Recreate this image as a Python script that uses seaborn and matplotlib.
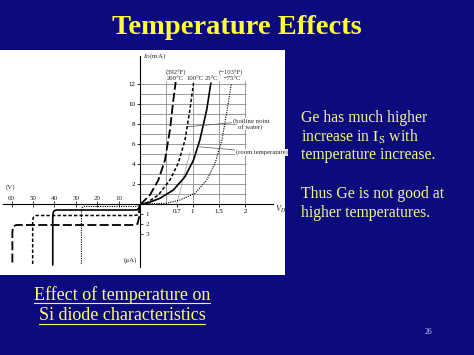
import matplotlib.pyplot as plt
import seaborn as sns
from matplotlib.patches import Rectangle

# diode curves: forward side in V and mA, reverse side in V and uA
temps = ['200°C', '100°C', '25°C', '−75°C']

fwd_v_200 = [0, 0.06, 0.19, 0.35, 0.476, 0.57, 0.635, 0.68]
fwd_i_200 = [0, 0.23, 0.9, 2.4, 4.4, 7.4, 10.4, 12.2]
fwd_v_100 = [0, 0.13, 0.35, 0.57, 0.73, 0.857, 0.95, 1.02]
fwd_i_100 = [0, 0.13, 0.9, 2.4, 4.1, 6.4, 9.4, 12.1]
fwd_v_25 = [0, 0.13, 0.38, 0.635, 0.857, 1.02, 1.14, 1.27, 1.35]
fwd_i_25 = [0, 0.07, 0.57, 1.4, 2.73, 4.4, 6.4, 9.4, 12.1]
fwd_v_m75 = [0, 0.51, 0.76, 1.05, 1.27, 1.43, 1.56, 1.66, 1.74]
fwd_i_m75 = [0, 0.07, 0.4, 1.07, 2.4, 4.07, 6.4, 9.4, 12.0]

rev_v_200 = [0, -0.4, -1.2, -3, -57.8, -59.0, -59.5, -59.7, -59.7]
rev_i_200 = [0, -1.3, -2.0, -2.1, -2.1, -2.2, -2.45, -2.9, -6.1]
rev_v_100 = [0, -0.4, -1.2, -3, -48.5, -49.5, -50.0, -50.2, -50.2]
rev_i_100 = [0, -0.7, -1.1, -1.15, -1.15, -1.22, -1.4, -1.8, -6.1]
rev_v_25 = [0, -0.4, -1.2, -3, -39.0, -40.1, -40.6, -40.8, -40.8]
rev_i_25 = [0, -0.35, -0.58, -0.6, -0.6, -0.66, -0.85, -1.3, -6.1]
rev_v_m75 = [0, -0.5, -1.5, -3, -26.0, -27.0, -27.4, -27.4]
rev_i_m75 = [0, -0.15, -0.24, -0.25, -0.25, -0.32, -0.6, -6.1]

tangent_v = [0.7, 0.95]
tangent_i = [0, 5.1]

fwd_xticks = [0.7, 1, 1.5, 2]
fwd_xlabels = ['0.7', '1', '1.5', '2']
fwd_yticks = [2, 4, 6, 8, 10, 12]
rev_xticks = [-60, -50, -40, -30, -20, -10]
rev_xlabels = ['60', '50', '40', '30', '20', '10']
rev_yticks = [-1, -2, -3]
rev_ylabels = ['1', '2', '3']
grid_ma = [1, 2, 3, 4, 5, 6, 7, 8, 9, 10, 11, 12]
grid_v = [0.5, 1.0, 1.5, 2.0]

sns.set_style("white")
plt.rcParams['font.family'] = ['Liberation Serif', 'DejaVu Serif']
plt.rcParams['mathtext.fontset'] = 'stix'

W, H = 474, 355
navy = '#0b0b7d'
fig = plt.figure(figsize=(4.74, 3.55), dpi=100)
fig.patch.set_facecolor(navy)


def box(x0, y0, x1, y1):
    # pixel box (y from top) -> figure fraction
    return [x0 / W, 1 - y1 / H, (x1 - x0) / W, (y1 - y0) / H]


# background layer in pixel coordinates
bg = fig.add_axes([0, 0, 1, 1])
bg.set_xlim(0, W)
bg.set_ylim(H, 0)
bg.axis('off')
bg.add_patch(Rectangle((0, 50), 285, 225, facecolor='white', edgecolor='none'))

bg.text(237, 27, 'Temperature Effects', color='#ffff33', fontsize=20.5,
        fontweight='bold', ha='center', va='center')

right_col = '#f4f48a'
rfs = 11.3
bg.text(301, 118, 'Ge has much higher', color=right_col, fontsize=rfs, va='center')
bg.text(301, 137, r'increase in $\mathrm{I_S}$ with', color=right_col, fontsize=rfs, va='center')
bg.text(301, 155, 'temperature increase.', color=right_col, fontsize=rfs, va='center')
bg.text(301, 194, 'Thus Ge is not good at', color=right_col, fontsize=rfs, va='center')
bg.text(301, 213, 'higher temperatures.', color=right_col, fontsize=rfs, va='center')

cap1 = bg.text(122, 295, 'Effect of temperature on', color='#ffff66', fontsize=13,
               ha='center', va='center')
cap2 = bg.text(122, 316, 'Si diode characteristics', color='#ffff66', fontsize=13,
               ha='center', va='center')
bg.text(429, 332, '26', color='#c8c8ff', fontsize=5.5, ha='center', va='center')

# forward quadrant (V, mA)
axf = fig.add_axes(box(140, 56, 285, 204))
axf.set_xlim(0, 145 / 52.5)
axf.set_ylim(0, 14.8)
axf.set_facecolor('none')
axf.hlines(grid_ma, 0, 2.02, color='#8c8c8c', lw=0.6, zorder=1)
axf.vlines(grid_v, 0, 12.3, color='#8c8c8c', lw=0.6, zorder=1)
axf.plot(tangent_v, tangent_i, color='#9a9a9a', lw=0.5, zorder=2)

sns.lineplot(x=fwd_v_200, y=fwd_i_200, ax=axf, estimator=None, sort=False,
             color='black', lw=1.3, linestyle=(0, (5, 1.8)), zorder=3)
sns.lineplot(x=fwd_v_100, y=fwd_i_100, ax=axf, estimator=None, sort=False,
             color='black', lw=1.1, linestyle=(0, (2.2, 1.4)), zorder=3)
sns.lineplot(x=fwd_v_25, y=fwd_i_25, ax=axf, estimator=None, sort=False,
             color='black', lw=1.2, zorder=3)
sns.lineplot(x=fwd_v_m75, y=fwd_i_m75, ax=axf, estimator=None, sort=False,
             color='black', lw=0.8, linestyle=(0, (1, 1.1)), zorder=3)

tfs = 4.8
axf.text(0.686, 13.15, '(392°F)', fontsize=tfs, ha='center', va='center')
axf.text(0.67, 12.5, temps[0], fontsize=tfs, ha='center', va='center')
axf.text(1.05, 12.5, temps[1], fontsize=tfs, ha='center', va='center')
axf.text(1.36, 12.5, temps[2], fontsize=tfs, ha='center', va='center')
axf.text(1.73, 13.15, '(−103°F)', fontsize=tfs, ha='center', va='center')
axf.text(1.76, 12.5, temps[3], fontsize=tfs, ha='center', va='center')

wb = dict(facecolor='white', edgecolor='none', pad=0.4)
axf.annotate('(boiling point', xy=(0.92, 7.73), xytext=(1.77, 8.3), fontsize=tfs,
             va='center', bbox=wb, zorder=4,
             arrowprops=dict(arrowstyle='-', color='#555555', lw=0.5, shrinkA=0, shrinkB=0))
axf.text(1.86, 7.73, 'of water)', fontsize=tfs, va='center', bbox=wb, zorder=4)
axf.annotate('(room temperature)', xy=(1.11, 5.73), xytext=(1.82, 5.17), fontsize=tfs,
             va='center', bbox=wb, zorder=4,
             arrowprops=dict(arrowstyle='-', color='#555555', lw=0.5, shrinkA=0, shrinkB=0))

axf.text(0.06, 14.8, r'$I_D$(mA)', fontsize=5, va='center')
axf.text(2.58, -0.5, r'$V_D$', fontsize=6, va='center', clip_on=False)

for s in ['top', 'right']:
    axf.spines[s].set_visible(False)
axf.spines['left'].set_bounds(0, 14.8)
axf.spines['bottom'].set_bounds(0, 133 / 52.5)
for s in ['left', 'bottom']:
    axf.spines[s].set_color('black')
    axf.spines[s].set_linewidth(0.8)
axf.set_xticks(fwd_xticks)
axf.set_xticklabels(fwd_xlabels)
axf.set_yticks(fwd_yticks)
axf.tick_params(axis='both', bottom=True, left=True, labelsize=5, length=2,
                width=0.6, pad=1.5, colors='black')

# reverse quadrant (V, uA)
axr = fig.add_axes(box(0, 204, 140, 275))
axr.set_xlim(-140 / 2.138, 0)
axr.set_ylim(-7.1, 0)
axr.set_facecolor('none')

sns.lineplot(x=rev_v_200, y=rev_i_200, ax=axr, estimator=None, sort=False,
             color='black', lw=1.3, linestyle=(0, (5, 1.8)), zorder=3)
sns.lineplot(x=rev_v_100, y=rev_i_100, ax=axr, estimator=None, sort=False,
             color='black', lw=1.1, linestyle=(0, (2.2, 1.4)), zorder=3)
sns.lineplot(x=rev_v_25, y=rev_i_25, ax=axr, estimator=None, sort=False,
             color='black', lw=1.2, zorder=3)
sns.lineplot(x=rev_v_m75, y=rev_i_m75, ax=axr, estimator=None, sort=False,
             color='black', lw=0.8, linestyle=(0, (1, 1.1)), zorder=3)

axr.text(-60.7, 1.7, '(V)', fontsize=5, ha='center', va='center', clip_on=False)
axr.text(-4.7, -5.6, '(μA)', fontsize=5, ha='center', va='center')

for s in ['left', 'bottom']:
    axr.spines[s].set_visible(False)
axr.spines['top'].set_bounds(-64.1, 0)
axr.spines['right'].set_bounds(-6.3, 0)
for s in ['top', 'right']:
    axr.spines[s].set_color('black')
    axr.spines[s].set_linewidth(0.8)
axr.set_xticks(rev_xticks)
axr.set_xticklabels(rev_xlabels)
axr.set_yticks(rev_yticks)
axr.set_yticklabels(rev_ylabels)
axr.tick_params(axis='x', top=True, bottom=False, labeltop=True, labelbottom=False,
                direction='inout', length=4, width=0.6, pad=0.5, labelsize=5)
axr.tick_params(axis='y', right=True, left=False, labelright=True, labelleft=False,
                direction='out', length=2.5, width=0.6, pad=1.5, labelsize=5)

# underline the caption
fig.canvas.draw()
r = fig.canvas.get_renderer()
inv = bg.transData.inverted()
for t in [cap1, cap2]:
    bb = t.get_window_extent(r)
    (x0, y0), (x1, y1) = inv.transform([(bb.x0, bb.y0), (bb.x1, bb.y1)])
    bg.plot([x0, x1], [y0 - 0.5, y0 - 0.5], color='#ffff66', lw=0.8)

fig.savefig('out.png', dpi=100, facecolor=navy)
